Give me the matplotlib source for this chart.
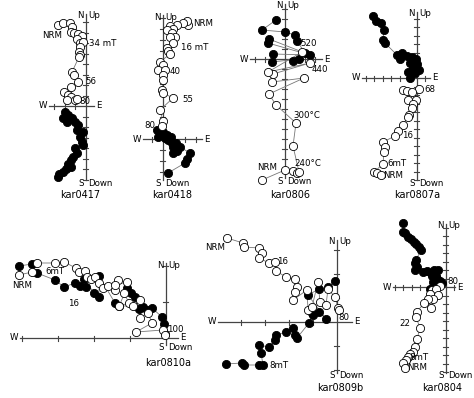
import matplotlib
matplotlib.use("Agg")
import matplotlib.pyplot as plt

# point data: (east, north) offsets from each diagram origin, in pixels
# open = vertical projection, filled = horizontal projection
k0417_open = [(-28, 81), (-23, 83), (-16, 83), (-14, 79), (-15, 74), (-12, 73), (-8, 72), (-4, 70),
              (-9, 67), (-6, 63), (-3, 64), (-6, 59), (-7, 54), (-6, 51), (-7, 49), (-14, 34),
              (-12, 31), (-8, 24), (-15, 19), (-22, 14), (-18, 11), (-15, 9), (-19, 6), (-11, 6), (-9, 7)]
k0417_fill = [(-21, -6), (-18, -9), (-23, -12), (-14, -12), (-19, -16), (-11, -16), (-8, -19), (-9, -24),
              (-3, -26), (-6, -31), (-4, -36), (-3, -39), (-11, -42), (-9, -47), (-13, -51), (-15, -54),
              (-18, -58), (-15, -61), (-20, -63), (-23, -66), (-27, -68), (-28, -71)]

k0418_open = [(25, 114), (24, 118), (20, 116), (14, 114), (7, 113), (10, 110), (4, 109), (9, 106),
              (12, 102), (7, 102), (10, 96), (4, 91), (5, 88), (7, 85), (-3, 77), (0, 74), (-5, 69),
              (2, 69), (0, 64), (0, 59), (-1, 49), (0, 46), (10, 41), (-3, 29), (0, 18), (-1, 13)]
k0418_fill = [(-6, 9), (-3, 6), (0, 7), (4, 4), (-5, 2), (2, 1), (5, -1), (8, 2), (9, -4), (10, -8),
              (13, -4), (14, -12), (10, -14), (17, -8), (27, -14), (24, -20), (22, -24), (5, -34)]

k0806_open = [(-23, -121), (0, -111), (8, -112), (12, -114), (14, -113), (8, -87), (11, -64), (-9, -46),
              (-16, -35), (19, -19), (-13, -23), (-12, -15), (25, -4), (-17, -13), (17, 7)]
k0806_fill = [(-9, 39), (-23, 29), (0, 27), (10, 24), (12, 18), (20, 6), (-16, 20), (-17, 16),
              (25, 4), (-12, 5), (-13, -3), (14, 0), (8, -2)]

k0807a_fill = [(-44, 62), (-41, 57), (-36, 55), (-33, 48), (-34, 38), (-32, 35), (-20, 23), (-15, 25),
               (-10, 22), (-17, 19), (-5, 21), (-1, 19), (-7, 15), (0, 14), (-4, 11), (2, 8), (-9, 6),
               (-2, 5), (-7, 0)]
k0807a_open = [(2, -11), (-14, -12), (-10, -13), (-5, -14), (-9, -22), (-1, -22), (-4, -26), (-5, -30),
               (-8, -37), (-9, -39), (-14, -47), (-19, -53), (-22, -58), (-34, -64), (-32, -69),
               (-33, -74), (-34, -86), (-43, -94), (-40, -95), (-36, -97)]

k0810a_fill = [(-147, 72), (-134, 74), (-129, 65), (-111, 58), (-102, 51), (-91, 55), (-86, 52),
               (-80, 51), (-82, 59), (-72, 45), (-67, 41), (-67, 62), (-51, 35), (-47, 32), (-39, 50),
               (-35, 45), (-31, 41), (-27, 29), (-23, 31), (-19, 28), (-14, 30), (-4, 21), (-2, 14), (-1, 4)]
k0810a_open = [(-147, 63), (-134, 66), (-129, 75), (-111, 75), (-102, 76), (-90, 70), (-87, 66),
               (-81, 67), (-79, 61), (-75, 59), (-71, 61), (-67, 55), (-63, 50), (-58, 52), (-51, 48),
               (-48, 58), (-51, 53), (-39, 56), (-42, 45), (-37, 35), (-47, 32), (-33, 32), (-26, 38),
               (-26, 20), (-18, 25), (-14, 15), (-30, 6), (-3, 8), (-1, 3)]

k0809b_fill = [(-111, -42), (-95, -41), (-93, -43), (-78, -43), (-74, -43), (-76, -31), (-78, -23),
               (-68, -25), (-62, -18), (-61, -13), (-51, -10), (-44, -6), (-42, -13), (-40, -16),
               (-28, -1), (-24, 7), (-25, 9), (-18, 10), (-11, 3), (-29, 27), (-18, 33), (-9, 35), (-2, 41)]
k0809b_open = [(-110, 84), (-94, 79), (-93, 75), (-78, 74), (-75, 69), (-78, 64), (-68, 59), (-62, 60),
               (-61, 51), (-51, 45), (-42, 43), (-40, 35), (-42, 30), (-44, 22), (-30, 32), (-29, 12),
               (-25, 15), (-19, 40), (-17, 20), (-11, 17), (-9, 33), (-2, 25), (1, 14), (2, 12)]

k0804_fill = [(-43, 64), (-43, 55), (-41, 54), (-38, 50), (-35, 48), (-32, 45), (-30, 43), (-27, 40),
              (-25, 37), (-30, 27), (-31, 24), (-29, 20), (-31, 17), (-23, 15), (-19, 16), (-15, 14),
              (-12, 17), (-8, 17), (-14, 11), (-10, 11), (-9, 8), (-6, 6), (-13, 5), (-4, 4), (-16, -2)]
k0804_open = [(-6, 1), (-14, -3), (-10, -2), (-16, -7), (-8, -8), (-13, -12), (-18, -12), (-15, -21),
              (-22, -16), (-29, -25), (-30, -30), (-26, -41), (-29, -52), (-31, -60), (-33, -65),
              (-36, -67), (-38, -70), (-40, -73), (-43, -76), (-41, -81)]

names = ["kar0417", "kar0418", "kar0806", "kar0807a", "kar0810a", "kar0809b", "kar0804"]
open_sets = [k0417_open, k0418_open, k0806_open, k0807a_open, k0810a_open, k0809b_open, k0804_open]
fill_sets = [k0417_fill, k0418_fill, k0806_fill, k0807a_fill, k0810a_fill, k0809b_fill, k0804_fill]

step_labels = [
    [("NRM", 52, 35), ("34 mT", 103, 44), ("56", 91, 81), ("80", 85, 101)],
    [("NRM", 203, 24), ("16 mT", 195, 47), ("40", 175, 71), ("55", 188, 99), ("80", 150, 126)],
    [("520", 309, 43), ("440", 320, 69), ("300°C", 307, 115), ("240°C", 308, 164), ("NRM", 267, 168)],
    [("68", 430, 90), ("16", 408, 135), ("6mT", 397, 163), ("NRM", 393, 175)],
    [("6mT", 55, 272), ("NRM", 22, 286), ("16", 74, 303), ("100", 175, 329)],
    [("NRM", 215, 248), ("16", 283, 262), ("80", 344, 317), ("8mT", 279, 366)],
    [("80", 453, 281), ("22", 405, 324), ("8mT", 419, 357), ("NRM", 417, 368)],
]

# layout: origin x, origin y, axis up, down, left, right, tick spacing, title x, title y
layout = [
    (86, 106, 92, 74, 37, 8, 10.5, 80, 195),
    (163, 139, 124, 41, 20, 39, 11, 172, 195),
    (285, 59, 55, 119, 35, 37, 10, 290, 195),
    (417, 78, 66, 102, 55, 13, 8.5, 417, 195),
    (166, 338, 75, 7, 146, 12, 36, 168, 363),
    (337, 322, 82, 51, 119, 15, 24, 340, 388),
    (446, 287, 63, 86, 53, 9, 8.5, 442, 388),
]

fig = plt.figure(figsize=(4.74, 3.98), dpi=100)
ax = fig.add_axes([0, 0, 1, 1])
ax.set_xlim(0, 474)
ax.set_ylim(398, 0)
ax.axis("off")

axcol = "#444444"
fs = 6.2


def draw_axes(ox, oy, up, down, left, right, tk):
    ax.plot([ox, ox], [oy - up, oy + down], color=axcol, lw=0.9, zorder=1)
    ax.plot([ox - left, ox + right], [oy, oy], color=axcol, lw=0.9, zorder=1)
    n = 1
    while n * tk <= max(up, down, left, right):
        d = n * tk
        if d <= up:
            ax.plot([ox - 2.5, ox + 2.5], [oy - d, oy - d], color=axcol, lw=0.8, zorder=1)
        if d <= down:
            ax.plot([ox - 2.5, ox + 2.5], [oy + d, oy + d], color=axcol, lw=0.8, zorder=1)
        if d <= left:
            ax.plot([ox - d, ox - d], [oy - 2.5, oy + 2.5], color=axcol, lw=0.8, zorder=1)
        if d <= right:
            ax.plot([ox + d, ox + d], [oy - 2.5, oy + 2.5], color=axcol, lw=0.8, zorder=1)
        n += 1
    ax.text(ox - 2, oy - up + 2, "N", ha="right", va="center", fontsize=fs)
    ax.text(ox + 2, oy - up + 2, "Up", ha="left", va="center", fontsize=fs)
    ax.text(ox - 2, oy + down + 3, "S", ha="right", va="center", fontsize=fs)
    ax.text(ox + 2, oy + down + 3, "Down", ha="left", va="center", fontsize=fs)
    ax.text(ox - left - 2, oy, "W", ha="right", va="center", fontsize=fs)
    ax.text(ox + right + 2, oy, "E", ha="left", va="center", fontsize=fs)


for i in range(len(names)):
    ox, oy, up, down, left, right, tk, tx, ty = layout[i]
    draw_axes(ox, oy, up, down, left, right, tk)
    fx = [ox + p[0] for p in fill_sets[i]]
    fy = [oy - p[1] for p in fill_sets[i]]
    px = [ox + p[0] for p in open_sets[i]]
    py = [oy - p[1] for p in open_sets[i]]
    ax.plot(fx, fy, color="#777777", lw=0.6, zorder=2)
    ax.plot(px, py, color="#777777", lw=0.6, zorder=2)
    ax.plot(fx, fy, "o", ms=5.9, mfc="black", mec="black", mew=0.6, zorder=3)
    ax.plot(px, py, "o", ms=5.9, mfc="white", mec="black", mew=0.6, zorder=4)
    for txt, lx, ly in step_labels[i]:
        ax.text(lx, ly, txt, ha="center", va="center", fontsize=fs, zorder=5)
    ax.text(tx, ty, names[i], ha="center", va="center", fontsize=7)

fig.savefig("out.png", dpi=100)
